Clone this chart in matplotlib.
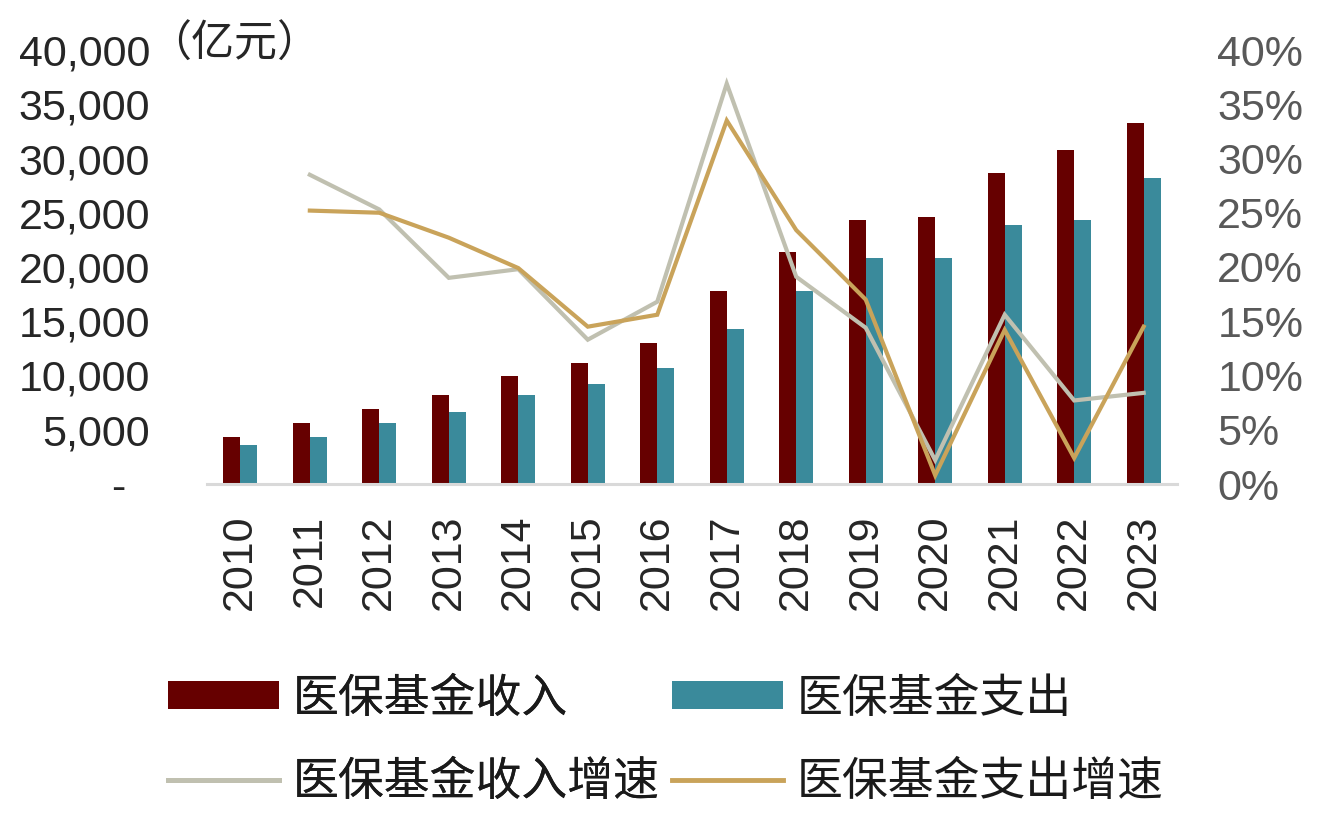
import matplotlib
matplotlib.use("Agg")
import matplotlib.pyplot as plt
from matplotlib.ticker import FuncFormatter, FixedLocator
from matplotlib.patches import Patch
from matplotlib.lines import Line2D

years = ["2010", "2011", "2012", "2013", "2014", "2015", "2016",
         "2017", "2018", "2019", "2020", "2021", "2022", "2023"]
income = [4360, 5650, 6880, 8170, 9950, 11180, 12970,
          17820, 21350, 24330, 24640, 28690, 30780, 33240]
expense = [3590, 4360, 5650, 6640, 8170, 9190, 10720,
           14260, 17790, 20800, 20800, 23870, 24330, 28200]
income_growth = [None, 28.5, 25.3, 19.0, 19.8, 13.3, 16.8,
                 36.9, 19.1, 14.4, 2.2, 15.6, 7.7, 8.4]
expense_growth = [None, 25.2, 25.0, 22.7, 19.9, 14.5, 15.6,
                  33.5, 23.4, 17.0, 0.8, 14.2, 2.4, 14.5]
left_ticks = [0, 5000, 10000, 15000, 20000, 25000, 30000, 35000, 40000]
right_ticks = [0, 5, 10, 15, 20, 25, 30, 35, 40]
labels = ["医保基金收入", "医保基金支出", "医保基金收入增速", "医保基金支出增速"]
unit_text = "（亿元）"

C_INC = "#660000"
C_EXP = "#3A8A9B"
C_IG = "#C0C0B0"
C_EG = "#C9A35A"

plt.rcParams['font.family'] = ['Liberation Sans', 'Noto Sans CJK SC']

W, H = 1326, 819
fig = plt.figure(figsize=(W / 100, H / 100), dpi=100)
ax = fig.add_axes([207 / W, 1 - 484 / H, (1177 - 207) / W, (484 - 50) / H])
ax2 = ax.twinx()

x = list(range(len(years)))
bw = 0.245
ax.bar([i - bw / 2 for i in x], income, width=bw, color=C_INC, zorder=2)
ax.bar([i + bw / 2 for i in x], expense, width=bw, color=C_EXP, zorder=2)

xi = [i for i, v in zip(x, income_growth) if v is not None]
ax2.plot(xi, [v for v in income_growth if v is not None], color=C_IG, lw=3.0,
         solid_joinstyle='miter')
ax2.plot(xi, [v for v in expense_growth if v is not None], color=C_EG, lw=3.0,
         solid_joinstyle='miter')

ax.set_xlim(-0.48, 13.48)
ax.set_ylim(0, 40000)
ax2.set_ylim(0, 40)

ax.yaxis.set_major_locator(FixedLocator(left_ticks))
ax.yaxis.set_major_formatter(FuncFormatter(lambda v, p: "-  " if v == 0 else f"{int(v):,}"))
ax2.yaxis.set_major_locator(FixedLocator(right_ticks))
ax2.yaxis.set_major_formatter(FuncFormatter(lambda v, p: f"{int(v)}%"))

ax.set_xticks(x)
ax.set_xticklabels(years, rotation=90)

for a in (ax, ax2):
    for s in ("top", "left", "right", "bottom"):
        a.spines[s].set_visible(False)
ax.spines["bottom"].set_visible(True)
ax.spines["bottom"].set_color("#D9D9D9")
ax.spines["bottom"].set_linewidth(2.2)

ax.tick_params(axis='y', length=0, pad=41, labelsize=31, labelcolor="#262626")
ax.tick_params(axis='x', length=0, pad=22, labelsize=31, labelcolor="#262626")
ax2.tick_params(axis='y', length=0, pad=29, labelsize=31, labelcolor="#595959")

fig.text(148 / W, 1 - 45 / H, unit_text, fontsize=31, color="#262626",
         va='center', ha='left', family=['Noto Sans CJK SC'])

h_inc = Patch(facecolor=C_INC, edgecolor='none')
h_exp = Patch(facecolor=C_EXP, edgecolor='none')
h_ig = Line2D([0], [0], color=C_IG, lw=3.5)
h_eg = Line2D([0], [0], color=C_EG, lw=3.5)

fs = 33
common = dict(loc='upper left', frameon=False, handlelength=2.42, handleheight=0.55,
              handletextpad=0.3, labelspacing=0.76, borderpad=0, borderaxespad=0,
              prop={'family': ['Noto Sans CJK SC'], 'size': fs})
leg1 = fig.legend([h_inc, h_ig], [labels[0], labels[2]],
                  bbox_to_anchor=(168 / W, 1 - 674 / H), **common)
fig.add_artist(leg1)
leg2 = fig.legend([h_exp, h_eg], [labels[1], labels[3]],
                  bbox_to_anchor=(672 / W, 1 - 674 / H), **common)
for lg in (leg1, leg2):
    for t in lg.get_texts():
        t.set_color("#1a1a1a")

fig.savefig("out.png", dpi=100)
